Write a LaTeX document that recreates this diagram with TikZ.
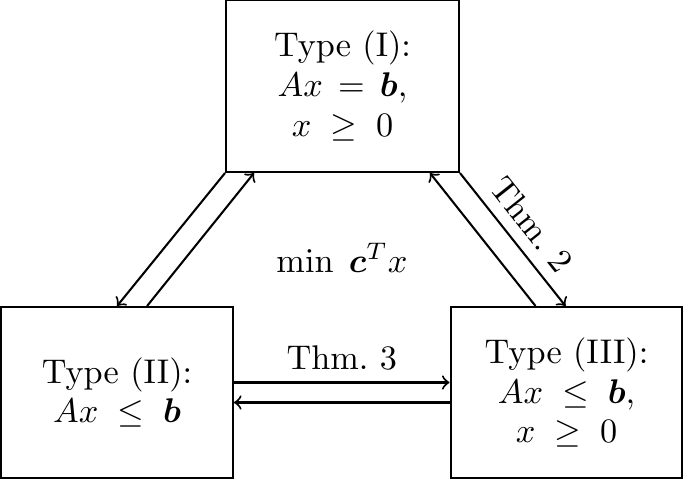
\documentclass[tikz,border=0pt]{standalone}
\usepackage{amsmath}
\usetikzlibrary{calc}
\begin{document}
\begin{tikzpicture}[x=0.292pt,y=-0.292pt,
  box/.style={draw,semithick,rectangle,inner sep=0pt,align=center,font=\fontsize{10}{11.6}\selectfont},
  conn/.style={semithick,->},
  lbl/.style={font=\fontsize{10}{12}\selectfont}]
\useasboundingbox (0,0) rectangle (685,480);
\node[box,minimum width=68pt,minimum height=50.2pt] (top) at (342.5,86)
  {Type (I):\\ $Ax\,=\,\boldsymbol{b}$,\\ $x\;\geq\;0$};
\node[box,minimum width=67.7pt,minimum height=49.9pt] (left) at (117,392.5)
  {Type (II):\\ $Ax\;\leq\;\boldsymbol{b}$};
\node[box,minimum width=67.7pt,minimum height=49.9pt] (right) at (566.5,392.5)
  {Type (III):\\ $Ax\;\leq\;\boldsymbol{b}$,\\ $x\;\geq\;0$};
\node[lbl] (obj) at (342,258) {$\min\;\boldsymbol{c}^T x$};
% left pair
\draw[conn] (top.south west) -- ($(left.north west)+(117,0)$);
\draw[conn] ($(left.north west)+(147,0)$) -- ($(top.south west)+(29,0)$);
% right pair
\draw[conn] ($(right.north west)+(86,0)$) -- ($(top.south east)+(-30,0)$);
\draw[conn] (top.south east) -- node[lbl,above,sloped] {Thm.\ 2} ($(right.north west)+(116,0)$);
% horizontal pair
\draw[conn] ($(left.east)+(0,-10)$) -- node[lbl,above] {Thm.\ 3} ($(right.west)+(0,-10)$);
\draw[conn] ($(right.west)+(0,10)$) -- ($(left.east)+(0,10)$);
\end{tikzpicture}
\end{document}
